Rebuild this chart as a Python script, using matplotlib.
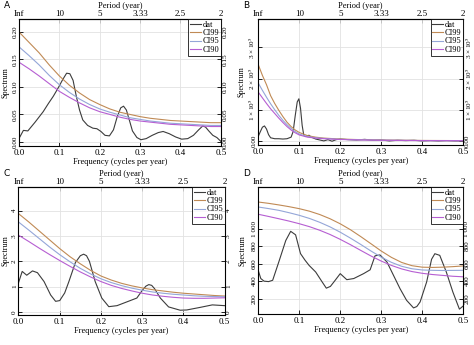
import numpy as np
import matplotlib
matplotlib.use("Agg")
import matplotlib.pyplot as plt

plt.rcParams['font.family'] = ['Liberation Serif', 'DejaVu Serif']
plt.rcParams['mathtext.fontset'] = 'stix'

# period labels shared by the top axes
freq_ticks = [0.0, 0.1, 0.2, 0.3, 0.4, 0.5]
period_labels = ['Inf', '10', '5', '3.33', '2.5', '2']
series_names = ['dat', 'CI99', 'CI95', 'CI90']

# ---- panel A ----
a_f = [0.0, 0.011, 0.022, 0.04, 0.06, 0.073, 0.085, 0.097, 0.108, 0.118, 0.126, 0.134,
       0.142, 0.15, 0.158, 0.17, 0.183, 0.193, 0.203, 0.213, 0.224, 0.234, 0.243, 0.252,
       0.259, 0.266, 0.274, 0.281, 0.292, 0.302, 0.315, 0.33, 0.345, 0.357, 0.372, 0.388,
       0.403, 0.418, 0.432, 0.445, 0.455, 0.462, 0.47, 0.48, 0.49, 0.5]
a_dat = [0.006, 0.021, 0.02, 0.036, 0.055, 0.07, 0.083, 0.098, 0.113, 0.125, 0.124, 0.112,
         0.083, 0.058, 0.04, 0.03, 0.025, 0.024, 0.019, 0.012, 0.011, 0.022, 0.045, 0.062,
         0.065, 0.058, 0.038, 0.02, 0.008, 0.004, 0.006, 0.012, 0.017, 0.019, 0.015, 0.009,
         0.005, 0.006, 0.012, 0.022, 0.029, 0.027, 0.02, 0.012, 0.008, 0.001]
ci_f = [0.0, 0.025, 0.05, 0.075, 0.1, 0.125, 0.15, 0.175, 0.2, 0.225, 0.25, 0.275, 0.3,
        0.325, 0.35, 0.375, 0.4, 0.425, 0.45, 0.475, 0.5]
a_ci99 = [0.200, 0.181, 0.162, 0.140, 0.120, 0.103, 0.089, 0.077, 0.068, 0.060, 0.054,
          0.050, 0.046, 0.043, 0.041, 0.039, 0.038, 0.037, 0.036, 0.035, 0.035]
a_ci95 = [0.173, 0.157, 0.140, 0.121, 0.104, 0.090, 0.078, 0.068, 0.060, 0.054, 0.049,
          0.044, 0.041, 0.038, 0.036, 0.034, 0.033, 0.032, 0.031, 0.030, 0.030]
a_ci90 = [0.145, 0.133, 0.120, 0.106, 0.092, 0.081, 0.071, 0.062, 0.055, 0.050, 0.045,
          0.041, 0.038, 0.036, 0.034, 0.032, 0.031, 0.030, 0.029, 0.028, 0.028]

# ---- panel B (units of 1e5) ----
b_f = [0.0, 0.005, 0.01, 0.015, 0.02, 0.025, 0.03, 0.04, 0.05, 0.06, 0.07, 0.08, 0.085,
       0.09, 0.095, 0.099, 0.103, 0.107, 0.111, 0.115, 0.12, 0.124, 0.128, 0.133, 0.14,
       0.15, 0.16, 0.17, 0.18, 0.19, 0.2, 0.22, 0.24, 0.26, 0.28, 0.3, 0.32, 0.34, 0.36,
       0.38, 0.4, 0.42, 0.44, 0.46, 0.48, 0.5]
b_dat = [0.15, 0.3, 0.44, 0.48, 0.38, 0.2, 0.1, 0.07, 0.07, 0.06, 0.07, 0.12, 0.3,
         0.8, 1.25, 1.35, 1.05, 0.5, 0.18, 0.14, 0.17, 0.18, 0.13, 0.1, 0.06,
         0.03, 0.0, 0.04, -0.01, 0.04, 0.06, 0.04, 0.03, 0.05, 0.02, 0.03, 0.0, 0.02, 0.01,
         0.02, 0.0, 0.01, 0.0, 0.01, 0.0, 0.0]
b_cf = [0.0, 0.01, 0.02, 0.03, 0.04, 0.05, 0.06, 0.07, 0.08, 0.09, 0.1, 0.12, 0.14, 0.16,
        0.2, 0.25, 0.3, 0.4, 0.5]
b_ci99 = [2.44, 2.1, 1.8, 1.45, 1.2, 0.98, 0.78, 0.6, 0.46, 0.35, 0.27, 0.17, 0.12, 0.09,
          0.06, 0.04, 0.03, 0.015, 0.01]
b_ci95 = [1.85, 1.62, 1.4, 1.19, 1.0, 0.82, 0.66, 0.52, 0.4, 0.3, 0.22, 0.14, 0.1, 0.08,
          0.05, 0.035, 0.025, 0.012, 0.008]
b_ci90 = [1.56, 1.38, 1.2, 1.03, 0.88, 0.73, 0.59, 0.46, 0.35, 0.26, 0.19, 0.12, 0.09, 0.07,
          0.045, 0.03, 0.02, 0.01, 0.006]

# ---- panel C ----
c_f = [0.0, 0.009, 0.02, 0.034, 0.046, 0.062, 0.078, 0.09, 0.1, 0.112, 0.122, 0.138, 0.15,
       0.158, 0.165, 0.172, 0.186, 0.202, 0.219, 0.239, 0.263, 0.287, 0.3, 0.309, 0.316,
       0.323, 0.33, 0.344, 0.364, 0.392, 0.408, 0.44, 0.47, 0.5]
c_dat = [1.15, 1.6, 1.45, 1.62, 1.55, 1.2, 0.67, 0.42, 0.45, 0.75, 1.19, 1.95, 2.22,
         2.28, 2.22, 2.0, 1.2, 0.55, 0.21, 0.25, 0.4, 0.55, 0.85, 1.02, 1.08,
         1.05, 0.92, 0.55, 0.2, 0.07, 0.08, 0.18, 0.28, 0.25]
c_ci99 = [3.88, 3.55, 3.2, 2.85, 2.5, 2.18, 1.9, 1.64, 1.42, 1.26, 1.13, 1.03, 0.95, 0.88,
          0.83, 0.78, 0.74, 0.71, 0.68, 0.65, 0.63]
c_ci95 = [3.55, 3.23, 2.9, 2.57, 2.26, 1.98, 1.72, 1.5, 1.31, 1.16, 1.04, 0.94, 0.86, 0.79,
          0.74, 0.7, 0.67, 0.64, 0.62, 0.61, 0.6]
c_ci90 = [3.03, 2.78, 2.52, 2.27, 2.03, 1.8, 1.58, 1.38, 1.2, 1.05, 0.93, 0.83, 0.74, 0.67,
          0.62, 0.58, 0.55, 0.54, 0.54, 0.55, 0.56]

# ---- panel D ----
d_f = [0.0, 0.006, 0.014, 0.025, 0.035, 0.05, 0.067, 0.079, 0.091, 0.103, 0.114, 0.124,
       0.14, 0.156, 0.166, 0.176, 0.186, 0.2, 0.216, 0.233, 0.257, 0.273, 0.285, 0.297,
       0.314, 0.33, 0.346, 0.362, 0.379, 0.387, 0.395, 0.411, 0.423, 0.431, 0.443, 0.459,
       0.475, 0.491, 0.5]
d_dat = [520, 430, 400, 395, 410, 620, 865, 970, 930, 715, 640, 580, 505, 390, 320, 340,
         400, 486, 417, 430, 486, 530, 690, 700, 620, 467, 314, 181, 94, 110, 162, 391, 650,
         714, 695, 505, 276, 80, 115]
d_ci99 = [1305, 1290, 1272, 1252, 1229, 1200, 1162, 1114, 1056, 988, 910, 828, 745, 672,
          614, 577, 560, 557, 560, 566, 574]
d_ci95 = [1248, 1230, 1210, 1183, 1153, 1117, 1073, 1021, 960, 892, 820, 745, 675, 615,
          570, 542, 528, 524, 522, 523, 524]
d_ci90 = [1165, 1140, 1114, 1087, 1057, 1023, 982, 934, 878, 817, 752, 688, 630, 580,
          540, 510, 490, 476, 466, 456, 450]

colors = ['#3c3c3c', '#c08a55', '#94a6d8', '#b65ed2']

fig = plt.figure(figsize=(4.74, 3.45), dpi=100)

panels = [
    ('A', [0.040, 0.577, 0.426, 0.368], a_f, a_dat, ci_f, a_ci99, a_ci95, a_ci90,
     (-0.0073, 0.2236), [0.0, 0.05, 0.1, 0.15, 0.2], ['0.00', '0.05', '0.10', '0.15', '0.20'],
     -0.045),
    ('B', [0.545, 0.580, 0.432, 0.365], b_f, b_dat, b_cf, b_ci99, b_ci95, b_ci90,
     (-0.128, 3.91), [0, 1, 2, 3],
     ['0.00', r'1 × 10$^5$', r'2 × 10$^5$', r'3 × 10$^5$'], -0.062),
    ('C', [0.039, 0.087, 0.435, 0.371], c_f, c_dat, ci_f, c_ci99, c_ci95, c_ci90,
     (-0.118, 4.93), [0, 1, 2, 3, 4], ['0', '1', '2', '3', '4'], -0.044),
    ('D', [0.545, 0.090, 0.432, 0.368], d_f, d_dat, ci_f, d_ci99, d_ci95, d_ci90,
     (25, 1477), [200, 400, 600, 800, 1000], ['200', '400', '600', '800', '1 000'], -0.058),
]

for (letter, rect, f, dat, cf, c99, c95, c90, ylim, yt, ytl, ylab_x) in panels:
    ax = fig.add_axes(rect)
    ax.plot(f, dat, color=colors[0], lw=0.8, label=series_names[0])
    ax.plot(cf, c99, color=colors[1], lw=0.8, label=series_names[1])
    ax.plot(cf, c95, color=colors[2], lw=0.8, label=series_names[2])
    ax.plot(cf, c90, color=colors[3], lw=0.8, label=series_names[3])
    ax.set_xlim(0, 0.5)
    ax.set_ylim(*ylim)
    ax.set_xticks(freq_ticks)
    ax.set_xticklabels(['%.1f' % v for v in freq_ticks])
    ax.set_yticks(yt)
    ax.set_yticklabels(ytl)
    ax.grid(True, color='#e2e2e2', lw=0.6)
    ax.set_axisbelow(True)
    ax.tick_params(direction='in', length=3, width=0.6, pad=2)
    ax.tick_params(axis='x', labelsize=6.5, pad=2)
    ax.tick_params(axis='y', labelsize=5.2, pad=1, labelrotation=90,
                   right=True, labelright=True)
    for lab in ax.get_yticklabels(which='both'):
        lab.set_va('center')
    for s in ax.spines.values():
        s.set_linewidth(0.8)
    ax.set_xlabel('Frequency (cycles per year)', fontsize=6, labelpad=1)
    ax.set_ylabel('Spectrum', fontsize=5.8)
    ax.yaxis.set_label_coords(ylab_x, 0.5)

    top = ax.secondary_xaxis('top')
    top.set_xticks(freq_ticks)
    top.set_xticklabels(period_labels)
    top.tick_params(direction='in', length=3, width=0.6, labelsize=6.5, pad=1)
    top.set_xlabel('Period (year)', fontsize=6, labelpad=1)

    leg = ax.legend(loc='upper right', fontsize=6, handlelength=1.3, handletextpad=0.2,
                    labelspacing=0.05, borderpad=0.2, borderaxespad=0.0,
                    frameon=True, fancybox=False)
    leg.get_frame().set_edgecolor('black')
    leg.get_frame().set_linewidth(0.7)

    fig.text(rect[0] - 0.032, rect[1] + rect[3] + 0.04, letter, fontsize=6.5,
             family='DejaVu Sans', va='center')

fig.savefig('out.png', dpi=100)
